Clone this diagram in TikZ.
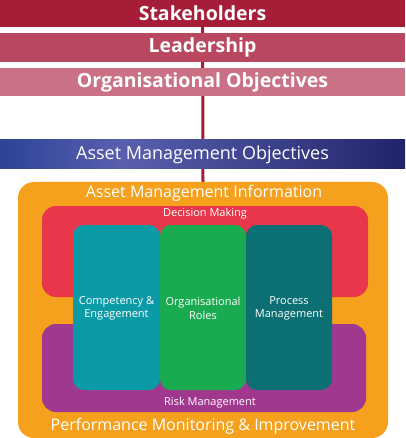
\documentclass[tikz,border=0pt]{standalone}
\usepackage{fontspec}
\setmainfont{Open Sans}
\usetikzlibrary{backgrounds}
\definecolor{cStake}{HTML}{A51D37}
\definecolor{cLead}{HTML}{B8475F}
\definecolor{cOrg}{HTML}{CA7186}
\definecolor{amoL}{HTML}{2C4396}
\definecolor{amoM}{HTML}{5A5FAF}
\definecolor{amoR}{HTML}{20256A}
\definecolor{cOrange}{HTML}{F5A11E}
\definecolor{cRed}{HTML}{E8364B}
\definecolor{cPurple}{HTML}{A1388F}
\definecolor{cTeal}{HTML}{0A9BA7}
\definecolor{cGreen}{HTML}{1AAA50}
\definecolor{cDTeal}{HTML}{0B6F74}
\pgfdeclarehorizontalshading{amoshade}{100bp}{color(0bp)=(amoL); color(25bp)=(amoL); color(40bp)=(amoM); color(75bp)=(amoR); color(100bp)=(amoR)}
\tikzset{
  bar/.style={rectangle, minimum width=405pt, inner sep=0pt, text=white, font=\fontsize{19.5}{22}\selectfont\bfseries},
  box/.style={rectangle, inner sep=0pt},
  col/.style={rectangle, rounded corners=11pt, inner sep=0pt, minimum width=87pt, minimum height=165pt},
  big/.style={text=white, font=\fontsize{16}{19}\selectfont},
  small/.style={text=white, font=\fontsize{11}{13.5}\selectfont, align=center},
  spine/.style={draw=cStake, line width=3pt}
}
\begin{document}
\begin{tikzpicture}[x=1pt,y=-1pt]
\useasboundingbox (0,0) rectangle (405,438);
\node[bar, fill=cStake, minimum height=27pt] (stake) at (202.5,13.5) {Stakeholders};
\node[bar, fill=cLead, minimum height=29pt] (lead) at (202.5,47.5) {Leadership};
\node[bar, fill=cOrg, minimum height=28pt] (org) at (202.5,82) {Organisational Objectives};
\node[bar, shading=amoshade, minimum height=29pt, font=\fontsize{18}{21}\selectfont] (amo) at (202.5,154.5) {Asset Management Objectives};
\node[box, fill=cOrange, rounded corners=16pt, minimum width=370pt, minimum height=256pt] (info) at (203,310) {};
\node[box, fill=cRed, rounded corners=14pt, minimum width=326pt, minimum height=91pt] (dec) at (205,251.5) {};
\node[box, fill=cPurple, rounded corners=14pt, minimum width=324pt, minimum height=88pt] (risk) at (204,368) {};
\node[col, fill=cTeal] (comp) at (116.5,307.5) {};
\node[col, fill=cGreen, minimum width=86pt] (roles) at (203,307.5) {};
\node[col, fill=cDTeal, minimum width=86pt] (proc) at (289,307.5) {};
\node[big] (infot) at (204,193) {Asset Management Information};
\node[small] (dect) at (205,214) {Decision Making};
\node[small] (riskt) at (210,403) {Risk Management};
\node[big] (perft) at (203,426) {Performance Monitoring \& Improvement};
\node[small] (compt) at (116.5,308.5) {Competency \&\\Engagement};
\node[small] (rolest) at (203,308.5) {Organisational\\Roles};
\node[small] (proct) at (289,308.5) {Process\\Management};
\begin{scope}[on background layer]
\draw[spine] (stake.center) -- (info.north);
\end{scope}
\end{tikzpicture}
\end{document}
